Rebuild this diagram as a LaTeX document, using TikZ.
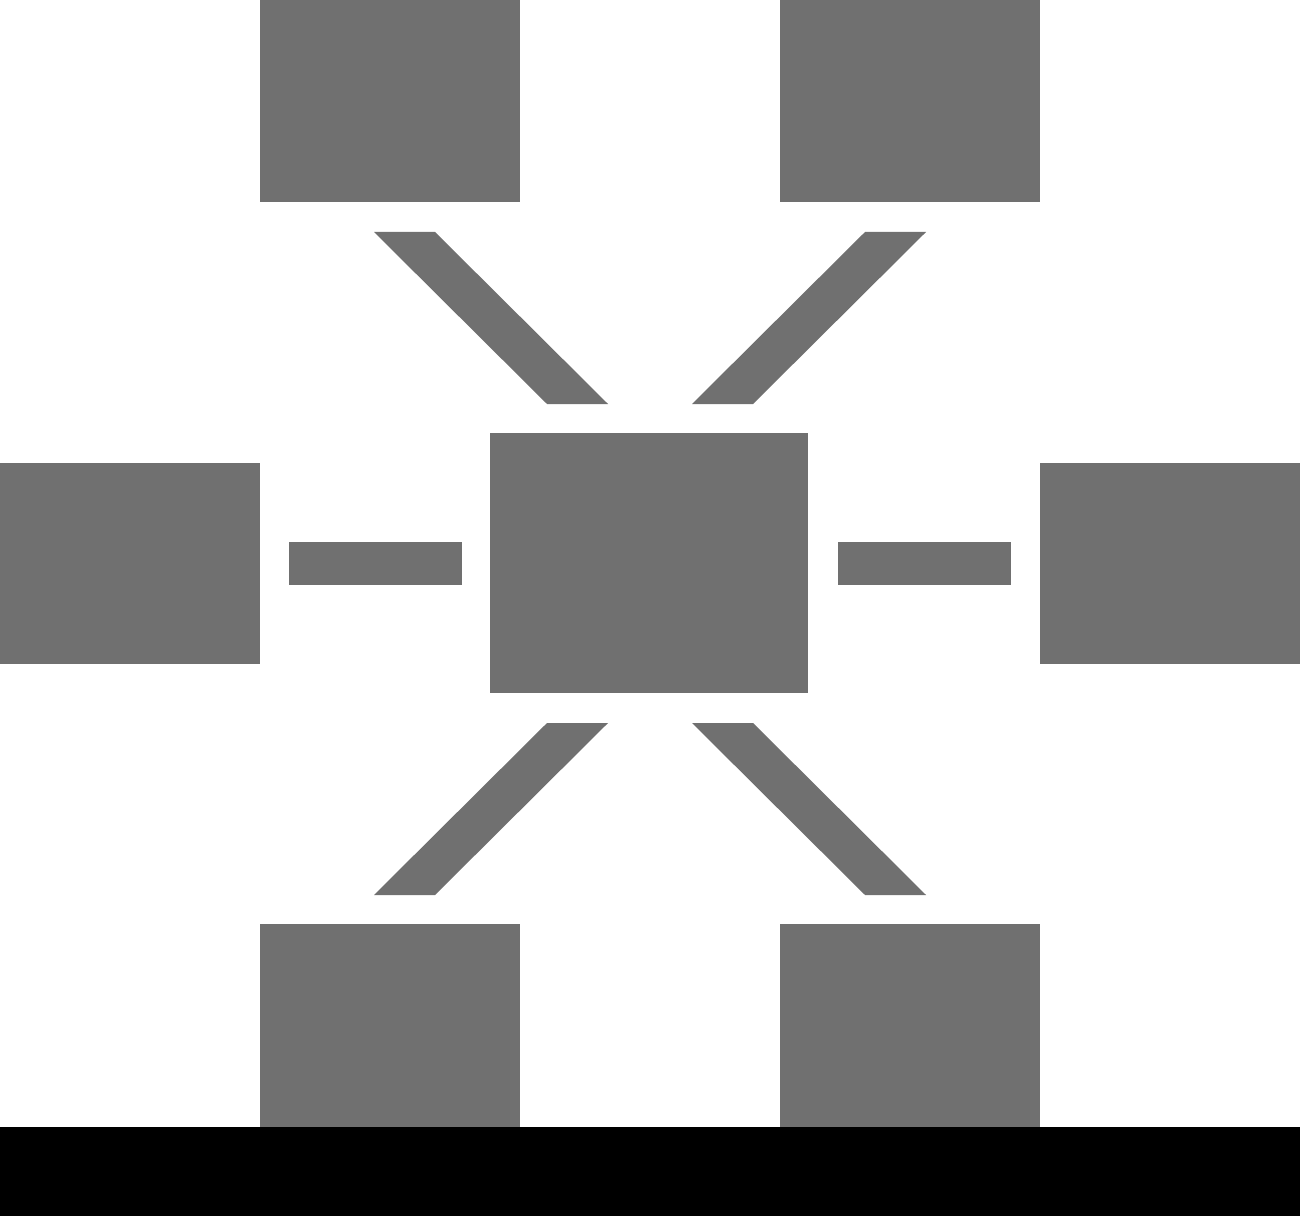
\documentclass[tikz,border=0pt]{standalone}
\definecolor{boxgray}{HTML}{707070}
\begin{document}
\begin{tikzpicture}[x=0.02cm,y=-0.02cm,
  blk/.style={fill=boxgray,draw=none,inner sep=0pt,outer sep=0pt},
  sidebox/.style={blk,minimum width=5.2cm,minimum height=4.03cm},
  link/.style={fill=boxgray,draw=none}]
\useasboundingbox (0,0) rectangle (1300,1216);
\fill[white] (0,0) rectangle (1300,1216);
% boxes
\node[sidebox] (tl) at (390,101) {};
\node[sidebox] (tr) at (910,101) {};
\node[sidebox] (l) at (130,563.5) {};
\node[sidebox] (r) at (1170,563.5) {};
\node[sidebox,minimum height=4.1cm] (bl) at (390,1026.5) {};
\node[sidebox,minimum height=4.1cm] (br) at (910,1026.5) {};
\node[blk,minimum width=6.36cm,minimum height=5.2cm] (c) at (649,563) {};
% horizontal links
\node[blk,minimum width=3.46cm,minimum height=0.86cm] (lk) at (375.5,563.5) {};
\node[blk,minimum width=3.46cm,minimum height=0.86cm] (rk) at (924.5,563.5) {};
% diagonal links
\fill[link] (374,232) -- (435,232) -- (608,404) -- (547,404) -- cycle;
\fill[link] (865,232) -- (926,232) -- (753,404) -- (692,404) -- cycle;
\fill[link] (547,723) -- (608,723) -- (435,895) -- (374,895) -- cycle;
\fill[link] (692,723) -- (753,723) -- (926,895) -- (865,895) -- cycle;
% bottom band
\fill[black] (0,1127) rectangle (1300,1216);
\end{tikzpicture}
\end{document}
